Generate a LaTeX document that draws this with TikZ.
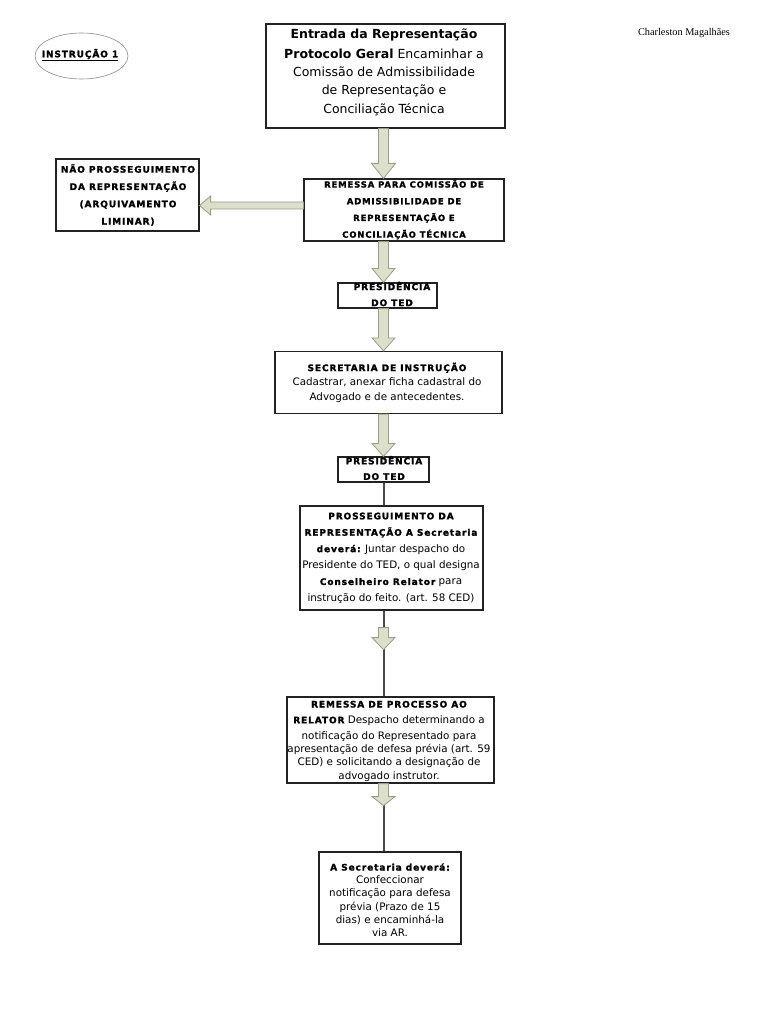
\documentclass[tikz,border=0pt]{standalone}
\usepackage{fontspec}
\setmainfont{DejaVu Sans}
\newfontfamily\spfont[LetterSpace=10, BoldFeatures={FakeBold=1.6}]{DejaVu Sans}
\newfontfamily\authorfont{Liberation Serif}
\usetikzlibrary{calc,shapes.geometric}
\definecolor{arrfill}{HTML}{DCDFCA}
\definecolor{arrline}{HTML}{9A9D88}
\definecolor{boxline}{HTML}{222222}
\definecolor{connline}{HTML}{4A4A4A}
\newcommand\SB[2][9]{{\spfont\bfseries\fontsize{#1}{#1}\selectfont #2}}
% vertical block arrow: #1 start, #2 tip, #3 shaft half width, #4 head half width, #5 head length
\newcommand\vblock[5]{%
  \draw[blockarr] let \p1=#1, \p2=#2 in
   (\x1-#3pt,\y1) -- (\x1-#3pt,\y2+#5pt) -- (\x1-#4pt,\y2+#5pt) -- (\x1,\y2)
   -- (\x1+#4pt,\y2+#5pt) -- (\x1+#3pt,\y2+#5pt) -- (\x1+#3pt,\y1) -- cycle;}
% horizontal (leftward) block arrow
\newcommand\hblock[5]{%
  \draw[blockarr] let \p1=#1, \p2=#2 in
   (\x1,\y1-#3pt) -- (\x2+#5pt,\y1-#3pt) -- (\x2+#5pt,\y1-#4pt) -- (\x2,\y1)
   -- (\x2+#5pt,\y1+#4pt) -- (\x2+#5pt,\y1+#3pt) -- (\x1,\y1+#3pt) -- cycle;}
\tikzset{
  box/.style={draw=boxline, line width=1.2pt, fill=white, inner sep=0pt},
  txt/.style={align=center, inner sep=0pt},
  conn/.style={draw=connline, line width=2pt},
  blockarr/.style={fill=arrfill, draw=arrline, line width=0.8pt, line join=miter},
}
\begin{document}
\begin{tikzpicture}[x=1pt,y=-1pt]
\fill[white] (0,0) rectangle (768,1024);
\useasboundingbox (0,0) rectangle (768,1024);
\coordinate (spine) at (383.5,0);

% header
\node[ellipse, draw=black!45, line width=0.6pt, minimum width=93, minimum height=46, inner sep=0pt] (instr) at (81.5,56) {};
\node[txt] (instrtxt) at (80,55) {\SB{\underline{INSTRUÇÃO 1}}};
\node[txt, font=\authorfont\fontsize{10.3}{12}\selectfont] (author) at (684,33) {Charleston Magalhães};

% boxes
\node[box, minimum width=239, minimum height=104] (top) at (385.5,76) {};
\node[txt, font=\fontsize{12.5}{18.2}\selectfont] (toptxt) at (384,72)
  {\textbf{Entrada da Representação}\\[2pt]
   \textbf{Protocolo Geral} Encaminhar a\\
   Comissão de Admissibilidade\\
   de Representação e\\
   Conciliação Técnica};

\node[box, minimum width=143, minimum height=72] (nao) at (127.5,195) {};
\node[txt, font=\fontsize{9}{17.3}\selectfont] (naotxt) at (128,195)
  {\SB{NÃO PROSSEGUIMENTO}\\ \SB{DA REPRESENTAÇÃO}\\ \SB{(ARQUIVAMENTO}\\ \SB{LIMINAR)}};

\node[box, minimum width=200, minimum height=62] (b2) at (404,210) {};
\node[txt, font=\fontsize{8.5}{16.7}\selectfont] (b2txt) at (404,209.5)
  {\SB[8.5]{REMESSA PARA COMISSÃO DE}\\ \SB[8.5]{ADMISSIBILIDADE DE}\\ \SB[8.5]{REPRESENTAÇÃO E}\\ \SB[8.5]{CONCILIAÇÃO TÉCNICA}};

\node[box, minimum width=99, minimum height=25] (p1) at (387.5,295.5) {};
\node[txt, font=\fontsize{9}{16}\selectfont] (p1txt) at (392,294)
  {\SB{PRESIDÊNCIA}\\ \SB{DO TED}};

\node[box, minimum width=227, minimum height=62] (sec) at (388.5,382.5) {};
\node[txt, font=\fontsize{10.35}{14.5}\selectfont] (sectxt) at (387,382.5)
  {\SB{SECRETARIA DE INSTRUÇÃO}\\ Cadastrar, anexar ficha cadastral do\\ Advogado e de antecedentes.};

\node[box, minimum width=91, minimum height=25] (p2) at (383.5,469.5) {};
\node[txt, font=\fontsize{9}{15.5}\selectfont] (p2txt) at (384,468)
  {\SB{PRESIDÊNCIA}\\ \SB{DO TED}};

\node[box, minimum width=183, minimum height=104] (pros) at (391.5,558) {};
\node[txt, font=\fontsize{10.35}{16.4}\selectfont] (prostxt) at (391,558)
  {\SB{PROSSEGUIMENTO DA}\\ \SB{REPRESENTAÇÃO A Secretaria}\\ \SB{deverá:} Juntar despacho do\\
   Presidente do TED, o qual designa\\ \SB{Conselheiro Relator} para\\ instrução do feito. (art. 58 CED)};

\node[box, minimum width=207, minimum height=86] (rem) at (390.5,740) {};
\node[txt, font=\fontsize{10.35}{13.3}\selectfont] (remtxt) at (389,741)
  {\SB{REMESSA DE PROCESSO AO}\\[2.5pt] \SB{RELATOR} Despacho determinando a\\[2.5pt]
   notificação do Representado para\\ apresentação de defesa prévia (art. 59\\
   CED) e solicitando a designação de\\ advogado instrutor.};

\node[box, minimum width=142, minimum height=92] (last) at (390,898) {};
\node[txt, font=\fontsize{10.35}{13.2}\selectfont] (lasttxt) at (390,900)
  {\SB{A Secretaria deverá:}\\ Confeccionar\\ notificação para defesa\\ prévia (Prazo de 15\\ dias) e encaminhá-la\\ via AR.};

% plain connectors
\draw[conn] (spine |- p2.south) -- (spine |- pros.north);
\draw[conn] (spine |- pros.south) -- (spine |- rem.north);
\draw[conn] (spine |- rem.south) -- (spine |- last.north);

% block arrows
\vblock{(spine |- top.south)}{(spine |- b2.north)}{5}{12}{15}
\hblock{($(b2.west)+(0,-4.5)$)}{(nao.east)}{3.5}{9.5}{11}
\vblock{(spine |- b2.south)}{(spine |- p1.north)}{5}{11.5}{14}
\vblock{(spine |- p1.south)}{(spine |- sec.north)}{5}{11.5}{13}
\vblock{(spine |- sec.south)}{(spine |- p2.north)}{5}{11.5}{13}
\vblock{($(spine |- pros.south)+(0,17)$)}{($(spine |- pros.south)+(0,39)$)}{5}{11.5}{12}
\vblock{(spine |- rem.south)}{($(spine |- rem.south)+(0,22)$)}{5}{11.5}{9}
\end{tikzpicture}
\end{document}
